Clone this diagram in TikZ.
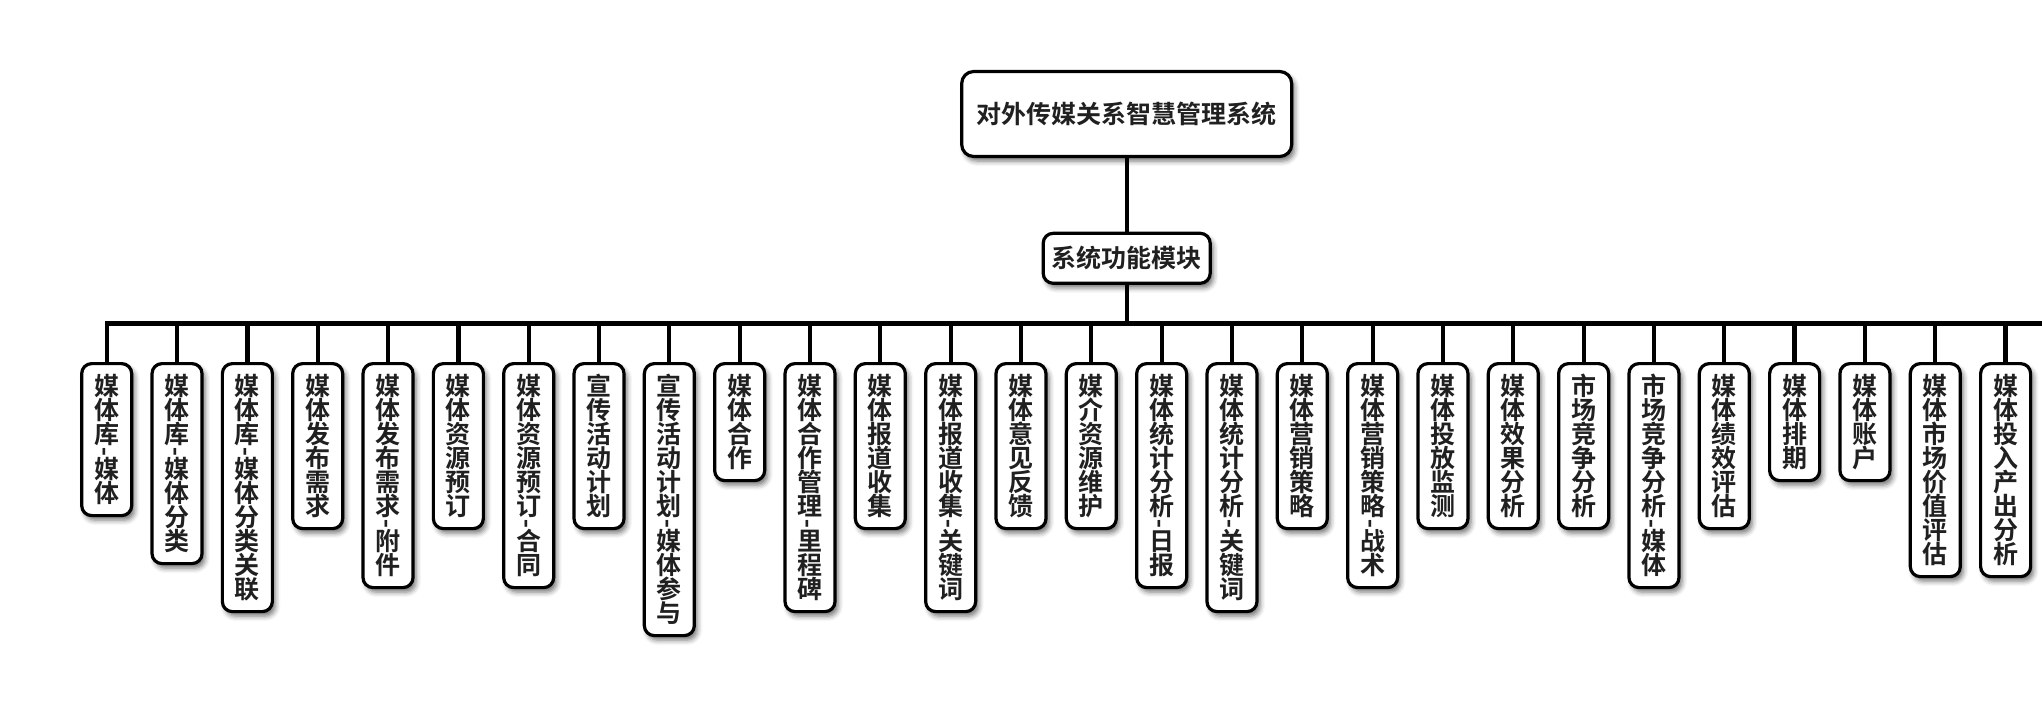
\documentclass[tikz,border=0pt]{standalone}
\usepackage{fontspec}
\setmainfont{Noto Sans CJK SC Bold}
\usepackage{graphicx}
\usetikzlibrary{shadows.blur}
\definecolor{txt}{HTML}{202020}
\pgfdeclarelayer{bg}
\pgfsetlayers{bg,main}
\makeatletter
\def\vl@dash{-}
\newcommand\vlab[1]{\vbox{\offinterlineskip\@tfor\vl@c:=#1\do{%
  \ifx\vl@c\vl@dash
    \hbox to 24pt{\hss\vbox to 11pt{\vss\hbox{\kern1.5pt\rotatebox[origin=c]{90}{-}}\vss}\hss}%
  \else
    \hbox to 24pt{\hss\raisebox{0pt}[21pt][3pt]{\vl@c}\hss}%
  \fi}}}
\newcommand\vlabx[1]{\expandafter\vlab\expandafter{#1}}
\makeatother
\tikzset{
  box/.style={draw=black, line width=3.2pt, fill=white, rounded corners=10pt, text=txt,
    font=\fontsize{25pt}{25pt}\selectfont,
    blur shadow={shadow xshift=3pt, shadow yshift=-4.5pt, shadow blur radius=5pt, shadow opacity=55}},
  leaf/.style={box, anchor=north, inner xsep=12.5pt, inner ysep=10.5pt, minimum width=50pt},
  conn/.style={line width=4.3pt, black, line join=miter},
}
\begin{document}
\begin{tikzpicture}[x=1pt,y=-1pt]
\useasboundingbox (0,0) rectangle (2042,716);
\node[box, minimum width=330pt, minimum height=85pt, rounded corners=12pt] (root) at (1126.7,114) {对外传媒关系智慧管理系统};
\node[box, minimum width=167pt, minimum height=50pt] (mod) at (1126.7,258.3) {系统功能模块};
\foreach \t [count=\i from 0] in {媒体库-媒体,媒体库-媒体分类,媒体库-媒体分类关联,媒体发布需求,媒体发布需求-附件,媒体资源预订,媒体资源预订-合同,宣传活动计划,宣传活动计划-媒体参与,媒体合作,媒体合作管理-里程碑,媒体报道收集,媒体报道收集-关键词,媒体意见反馈,媒介资源维护,媒体统计分析-日报,媒体统计分析-关键词,媒体营销策略,媒体营销策略-战术,媒体投放监测,媒体效果分析,市场竞争分析,市场竞争分析-媒体,媒体绩效评估,媒体排期,媒体账户,媒体市场价值评估,媒体投入产出分析}{
  \node[leaf] (n\i) at ({106.7+70.33*\i},362) {\vlabx{\t}};
}
\coordinate (busR) at (2050,323.5);
\begin{pgfonlayer}{bg}
  \draw[conn] (root.south) -- (mod.north);
  \draw[conn] (mod.south) -- (mod.south |- busR);
  \draw[conn] (n0.north) |- (busR);
  \foreach \i in {1,...,27}{
    \draw[conn] (n\i.north) -- (n\i.north |- busR);
  }
\end{pgfonlayer}
\end{tikzpicture}
\end{document}
